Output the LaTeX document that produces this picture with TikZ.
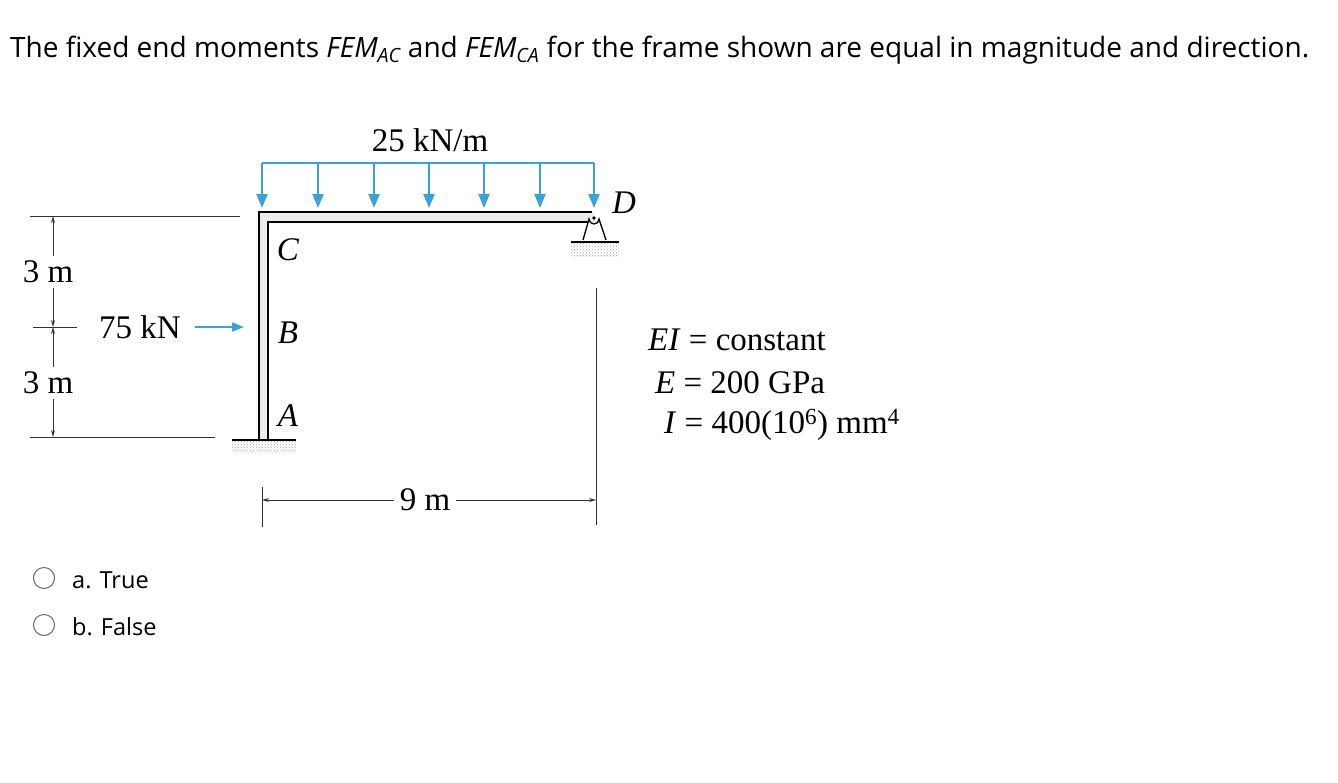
\documentclass[tikz,border=0pt]{standalone}
\usepackage{fontspec}
\setmainfont{Liberation Serif}
\newfontfamily\osans{Open Sans}
\usetikzlibrary{arrows.meta,patterns}
\definecolor{ld}{RGB}{60,160,220}
\begin{document}
\begin{tikzpicture}[x=1pt,y=-1pt,
  lab/.style={font=\fontsize{33}{36}\selectfont,inner sep=0pt},
  ilab/.style={font=\itshape\fontsize{33}{36}\selectfont,inner sep=0pt},
  ui/.style={font=\osans\fontsize{28}{34}\selectfont,inner sep=0pt},
  opt/.style={font=\osans\fontsize{23.5}{28}\selectfont,inner sep=0pt},
  load/.style={ld,line width=2.2pt,-{Triangle[length=14pt,width=11pt]}},
  dim/.style={black!80,line width=0.9pt},
  dimar/.style={dim,-{Stealth[length=7pt,width=4pt]}}]
\useasboundingbox (0,0) rectangle (1338,782);
\node[ui,anchor=west] (title) at (10,50) {The fixed end moments \textit{FEM\textsubscript{AC}} and \textit{FEM\textsubscript{CA}} for the frame shown are equal in magnitude and direction.};
% frame
\fill[black!8] (259,440) -- (259,212) -- (594,212) -- (594,222) -- (268,222) -- (268,440) -- cycle;
\draw[line width=1.3pt] (259,440) -- (259,212) -- (592,212);
\draw[line width=1.3pt] (268,440) -- (268,222) -- (590,222);
% fixed support
\draw[line width=1.4pt] (232,440) -- (296,440);
\fill[pattern=crosshatch dots, pattern color=black!35] (232,441) rectangle (296,452);
% pin support D
\draw[line width=1.3pt,fill=white] (583,240) -- (589,219) arc (180:0:5) -- (606,240);
\fill (594,218) circle (1.8pt);
\draw[line width=1.4pt] (571,242) -- (619,242);
\fill[pattern=crosshatch dots, pattern color=black!35] (571,243) rectangle (619,256);
% distributed load
\draw[ld,line width=2.2pt] (262,163) -- (594,163);
\foreach \x in {262,318,374,429,484,540,594} \draw[load] (\x,163) -- (\x,208);
\node[lab] (q) at (430,140) {25 kN/m};
\node[ilab] (Dl) at (624,203) {D};
\node[ilab] (Cl) at (288,250) {C};
\node[ilab] (Bl) at (288,333) {B};
\node[ilab] (Al) at (288,416) {A};
% left dimensions
\draw[dim] (30,216) -- (240,216);
\draw[dim] (30,437) -- (215,437);
\draw[dim] (33,327) -- (77,327);
\node[lab] (d1) at (48,272) {3 m};
\node[lab] (d2) at (48,383) {3 m};
\draw[dimar] (53,256) -- (53,216);
\draw[dimar] (53,288) -- (53,327);
\draw[dimar] (53,367) -- (53,327);
\draw[dimar] (53,399) -- (53,437);
\node[lab] (P) at (140,327) {75 kN};
\draw[ld,line width=1.8pt,-{Triangle[length=12pt,width=9pt]}] (195,327) -- (244,327);
% right & bottom dims
\draw[dim] (596,288) -- (596,525);
\draw[dim] (262,487) -- (262,527);
\node[lab] (d3) at (425,500) {9 m};
\draw[dimar] (d3.west) ++(-6,0) -- (262,500);
\draw[dimar] (d3.east) ++(6,0) -- (596,500);
% properties
\node[lab,anchor=west] (ei) at (648,340) {\textit{EI} = constant};
\node[lab,anchor=west] (e) at (655,383) {\textit{E} = 200 GPa};
\node[lab,anchor=west] (i) at (664,425) {\textit{I} = 400(10\textsuperscript{6}) mm\textsuperscript{4}};
% options
\draw[black!60,line width=1pt] (44,578) circle (10.5);
\draw[black!60,line width=1pt] (44,625) circle (10.5);
\node[opt,anchor=west] (oa) at (72,580) {a. True};
\node[opt,anchor=west] (ob) at (72,627) {b. False};
\end{tikzpicture}
\end{document}
